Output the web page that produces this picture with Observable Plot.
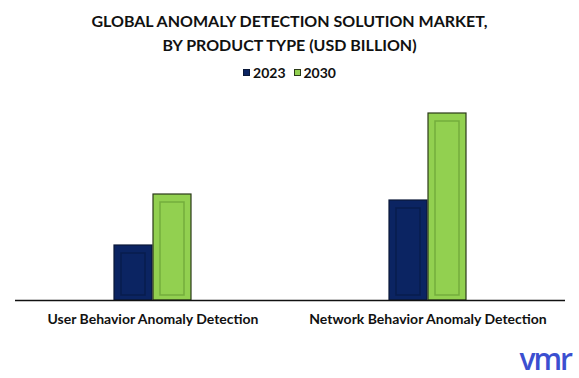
<!DOCTYPE html>
<html>
<head>
<meta charset="utf-8">
<script src="https://cdn.jsdelivr.net/npm/d3@7"></script>
<script src="https://cdn.jsdelivr.net/npm/@observablehq/plot@0.6"></script>
<style>
  html, body { margin: 0; padding: 0; background: #fff; }
  body { width: 579px; height: 378px; position: relative; overflow: hidden; font-family: Lato, "Open Sans", sans-serif; }
  #title { position: absolute; left: 0; top: 9px; width: 579px; text-align: center; font-weight: 700; font-size: 16px; line-height: 24px; color: #111; }
  #legend { position: absolute; left: 0; top: 62px; width: 579px; text-align: center; font-weight: 700; font-size: 14px; line-height: 18px; color: #111; }
  #legend span.item { display: inline-flex; align-items: center; margin: 0 4px; }
  #legend i { display: inline-block; width: 7px; height: 7px; margin-right: 3px; box-sizing: border-box; }
  #chart { position: absolute; left: 0; top: 85px; }
  #logo { position: absolute; right: 8px; bottom: 4px; font-family: "Open Sans", sans-serif; font-weight: 600; font-size: 30px; color: #3b4fd0; letter-spacing: -2px; line-height: 30px; }
</style>
</head>
<body>
<div id="title">GLOBAL ANOMALY DETECTION SOLUTION MARKET,<br>BY PRODUCT TYPE (USD BILLION)</div>
<div id="legend"></div>
<div id="chart"></div>
<div id="logo">vmr</div>
<script>
const categories = ["User Behavior Anomaly Detection", "Network Behavior Anomaly Detection"];
const years = ["2023", "2030"];
const values2023 = [0.55, 1.00];
const values2030 = [1.06, 1.87];
const colors = ["#0b2462", "#92d050"];
const borderColors = ["#0a1838", "#2b3a18"];
const innerColors = ["#081c4e", "#74ad3c"];

const data = [];
categories.forEach((c, i) => {
  data.push({category: c, year: years[0], value: values2023[i]});
  data.push({category: c, year: years[1], value: values2030[i]});
});

const legend = document.getElementById("legend");
years.forEach((y, i) => {
  const s = document.createElement("span");
  s.className = "item";
  s.innerHTML = `<i style="background:${colors[i]};border:1px solid ${borderColors[i]}"></i>${y}`;
  legend.appendChild(s);
});

const chart = Plot.plot({
  width: 579,
  height: 293,
  marginLeft: 14,
  marginRight: 14,
  marginTop: 0,
  marginBottom: 78,
  style: {fontFamily: "Lato, 'Open Sans', sans-serif", background: "transparent"},
  fx: {domain: categories, paddingInner: 0, paddingOuter: 0, label: null, axis: null},
  x: {domain: years, paddingInner: 0.03, paddingOuter: 2.5, axis: null},
  y: {domain: [0, 2.15], axis: null},
  color: {domain: years, range: colors},
  marks: [
    Plot.barY(data, {fx: "category", x: "year", y: "value", fill: "year", stroke: d => borderColors[years.indexOf(d.year)], strokeWidth: 1.2}),
    Plot.barY(data, {fx: "category", x: "year", y: "value", fill: "none", stroke: d => innerColors[years.indexOf(d.year)], strokeWidth: 1.5, insetLeft: 7, insetRight: 7, insetTop: 8, insetBottom: 5}),
    Plot.ruleY(data, {fx: "category", x: "year", y: 0, dy: -4, stroke: d => d.year === "2023" ? "#3d5aa0" : "#b8e680", strokeWidth: 1.2, insetLeft: 8, insetRight: 8}),
    Plot.ruleY([0], {stroke: "#111", strokeWidth: 1.5}),
    Plot.text(categories, {fx: d => d, text: d => d, frameAnchor: "bottom", dy: 23, fontSize: 14, fontWeight: 700, fill: "#111"})
  ]
});
document.getElementById("chart").appendChild(chart);
</script>
</body>
</html>
